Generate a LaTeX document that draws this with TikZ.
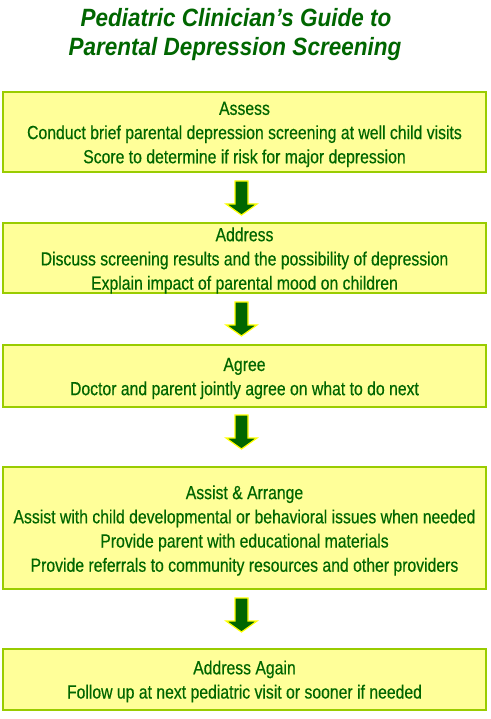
\documentclass[tikz,border=0pt]{standalone}
\usepackage{fontspec}
\setmainfont{Liberation Sans}
\newfontfamily\boxfont[FakeStretch=0.83,FakeBold=0.4]{Liberation Sans}
\newfontfamily\titlefont[FakeStretch=0.90]{Liberation Sans}
\usetikzlibrary{calc}
\definecolor{boxfill}{HTML}{FFFF99}
\definecolor{boxline}{HTML}{99CC00}
\definecolor{dgreen}{HTML}{006600}
\definecolor{arrowline}{HTML}{FFFF00}
\tikzset{
  stepbox/.style={draw=boxline, line width=2pt, fill=boxfill, minimum width=483pt, inner sep=0pt},
  steptext/.style={inner sep=0pt, text=dgreen, font=\boxfont\fontsize{19}{24.2}\selectfont, align=center},
  titletext/.style={text=dgreen, font=\titlefont\bfseries\itshape\fontsize{25}{28}\selectfont, anchor=base, inner sep=0pt},
  flowarrow/.pic={\draw[fill=dgreen, draw=arrowline, line width=1.2pt, line join=miter]
    (-6.5,0) -- (6.5,0) -- (6.5,23) -- (15.5,23) -- (0,34) -- (-15.5,23) -- (-6.5,23) -- cycle;}
}
\begin{document}
\begin{tikzpicture}[x=1pt,y=-1pt]
\useasboundingbox[fill=white] (0,0) rectangle (490,719);
\node[titletext] (t1) at (236,27) {Pediatric Clinician’s Guide to};
\node[titletext] (t2) at (235,56) {Parental Depression Screening};

\node[stepbox, minimum height=80pt] (b1) at (244.5,132) {};
\node[stepbox, minimum height=70pt] (b2) at (244.5,258) {};
\node[stepbox, minimum height=62pt] (b3) at (244.5,376) {};
\node[stepbox, minimum height=122pt] (b4) at (244.5,528) {};
\node[stepbox, minimum height=61pt] (b5) at (244.5,679.5) {};

\node[steptext] (b1t) at ($(b1.center)+(0,2.5)$) {Assess\\Conduct brief parental depression screening at well child visits\\Score to determine if risk for major depression};
\node[steptext] (b2t) at ($(b2.center)+(0,2.5)$) {Address\\Discuss screening results and the possibility of depression\\Explain impact of parental mood on children};
\node[steptext] (b3t) at ($(b3.center)+(0,2.5)$) {Agree\\Doctor and parent jointly agree on what to do next};
\node[steptext] (b4t) at ($(b4.center)+(0,2.5)$) {Assist \& Arrange\\Assist with child developmental or behavioral issues when needed\\Provide parent with educational materials\\Provide referrals to community resources and other providers};
\node[steptext] (b5t) at ($(b5.center)+(0,2)$) {Address Again\\Follow up at next pediatric visit or sooner if needed};

\pic at ($(b1.south)+(-3,8)$) {flowarrow};
\pic at ($(b2.south)+(-3,8)$) {flowarrow};
\pic at ($(b3.south)+(-3,7)$) {flowarrow};
\pic at ($(b4.south)+(-3,8)$) {flowarrow};
\end{tikzpicture}
\end{document}
